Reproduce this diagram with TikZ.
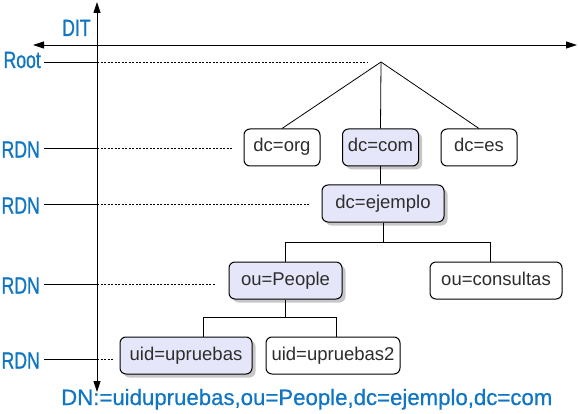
\documentclass[tikz,border=0pt]{standalone}
\usepackage{fontspec}
\setmainfont{Liberation Sans}
\newfontfamily\narrowsans[FakeStretch=0.75,FakeBold=1]{Liberation Sans}
\newfontfamily\dnsans[FakeBold=0.6]{Liberation Sans}
\usetikzlibrary{calc,shadows}
\usetikzlibrary{arrows.meta}
\definecolor{ditblue}{RGB}{16,118,196}
\definecolor{entryfill}{RGB}{230,230,250}
\definecolor{entrytext}{RGB}{45,45,45}

\begin{document}
\begin{tikzpicture}[x=1pt,y=-1pt,
  axis/.style={line width=0.8pt, {Triangle[length=11pt,width=7pt]}-{Triangle[length=11pt,width=7pt]}},
  level/.style={line width=0.8pt},
  guide/.style={line width=0.6pt, dash pattern=on 2pt off 1.5pt},
  branch/.style={line width=0.8pt},
  entry/.style={rectangle, rounded corners=6pt, draw, line width=1pt, fill=white, text=entrytext, font=\fontsize{18.5}{20}\selectfont, minimum width=76pt, minimum height=37pt, inner xsep=5pt, text height=13pt, text depth=4pt},
  path/.style={entry, fill=entryfill, drop shadow={shadow xshift=3.5pt, shadow yshift=-3.5pt, fill=black!22, opacity=1}},
  tag/.style={text=ditblue, inner sep=0pt, font=\narrowsans\fontsize{23.5}{25}\selectfont}]

	\useasboundingbox (0,0) rectangle (578,414);

	% axes of the tree
	\coordinate (top) at (97,2);
	\coordinate (bottom) at (97,392);
	\coordinate (left) at (33,45);
	\coordinate (right) at (577,45);
	\draw[axis] (bottom) -- (top);
	\draw[axis] (left) -- (right);

	% entries
	\coordinate (root) at (381,62);
	\node[entry] (org) at (282,147.5) {dc=org};
	\node[path] (com) at (380.5,147.5) {dc=com};
	\node[entry] (es) at (479,147.5) {dc=es};
	\node[path, minimum width=122pt] (ejemplo) at (383,203.5) {dc=ejemplo};
	\node[path, minimum width=113pt] (people) at (285.5,280.5) {ou=People};
	\node[entry, minimum width=132pt] (consultas) at (496,280.5) {ou=consultas};
	\node[path, minimum width=132pt] (upruebas) at (186,355.5) {uid=upruebas};
	\node[entry, minimum width=134pt] (upruebas2) at (333,355.5) {uid=upruebas2};

	\draw[branch] (org.north) -- (root) -- (es.north);
	\draw[branch] (root) -- (com.north);
	\draw[branch] (com.south) -- (com.south |- ejemplo.north);
	\coordinate (fork1) at ($(ejemplo.south)+(0,20)$);
	\draw[branch] (ejemplo.south) -- (fork1) -| (people.north);
	\draw[branch] (fork1) -| ([xshift=-6pt]consultas.north);
	\coordinate (fork2) at ($(people.south)+(0,18)$);
	\draw[branch] (people.south) -- (fork2) -| ([xshift=17pt]upruebas.north);
	\draw[branch] (fork2) -| ([xshift=3pt]upruebas2.north);

	% labels
	\node[tag, anchor=base west] (dit) at (62,36) {DIT};
	\node[tag, anchor=east] (lroot) at (41,60) {Root};
	\node[tag, anchor=east] (l1) at (40,149.5) {RDN};
	\node[tag, anchor=east] (l2) at (40,205.5) {RDN};
	\node[tag, anchor=east] (l3) at (40,285.5) {RDN};
	\node[tag, anchor=east] (l4) at (40,360.5) {RDN};
	\node[anchor=base west, inner sep=0pt, text=ditblue, font=\dnsans\fontsize{22.2}{24}\selectfont] (dn) at (61,405) {DN:=uidupruebas,ou=People,dc=ejemplo,dc=com};

	% levels
	\coordinate (a0) at (97,62);
	\coordinate (a1) at (97,148);
	\coordinate (a2) at (97,204);
	\coordinate (a3) at (97,284);
	\coordinate (a4) at (97,359);
	\draw[level] ($(a0 -| lroot.east)+(3,0)$) -- (a0);
	\draw[guide] (a0) -- ($(root)+(-13,0)$);
	\draw[level] ($(a1 -| l1.east)+(4,0)$) -- (a1);
	\draw[guide] (a1) -- ($(a1 -| org.west)+(-11,0)$);
	\draw[level] ($(a2 -| l2.east)+(4,0)$) -- (a2);
	\draw[guide] (a2) -- ($(a2 -| ejemplo.west)+(-12,0)$);
	\draw[level] ($(a3 -| l3.east)+(4,0)$) -- (a3);
	\draw[guide] (a3) -- ($(a3 -| people.west)+(-14,0)$);
	\draw[level] ($(a4 -| l4.east)+(4,0)$) -- (a4);
	\draw[guide] (a4) -- ($(a4 -| upruebas.west)+(-7,0)$);
\end{tikzpicture}
\end{document}
